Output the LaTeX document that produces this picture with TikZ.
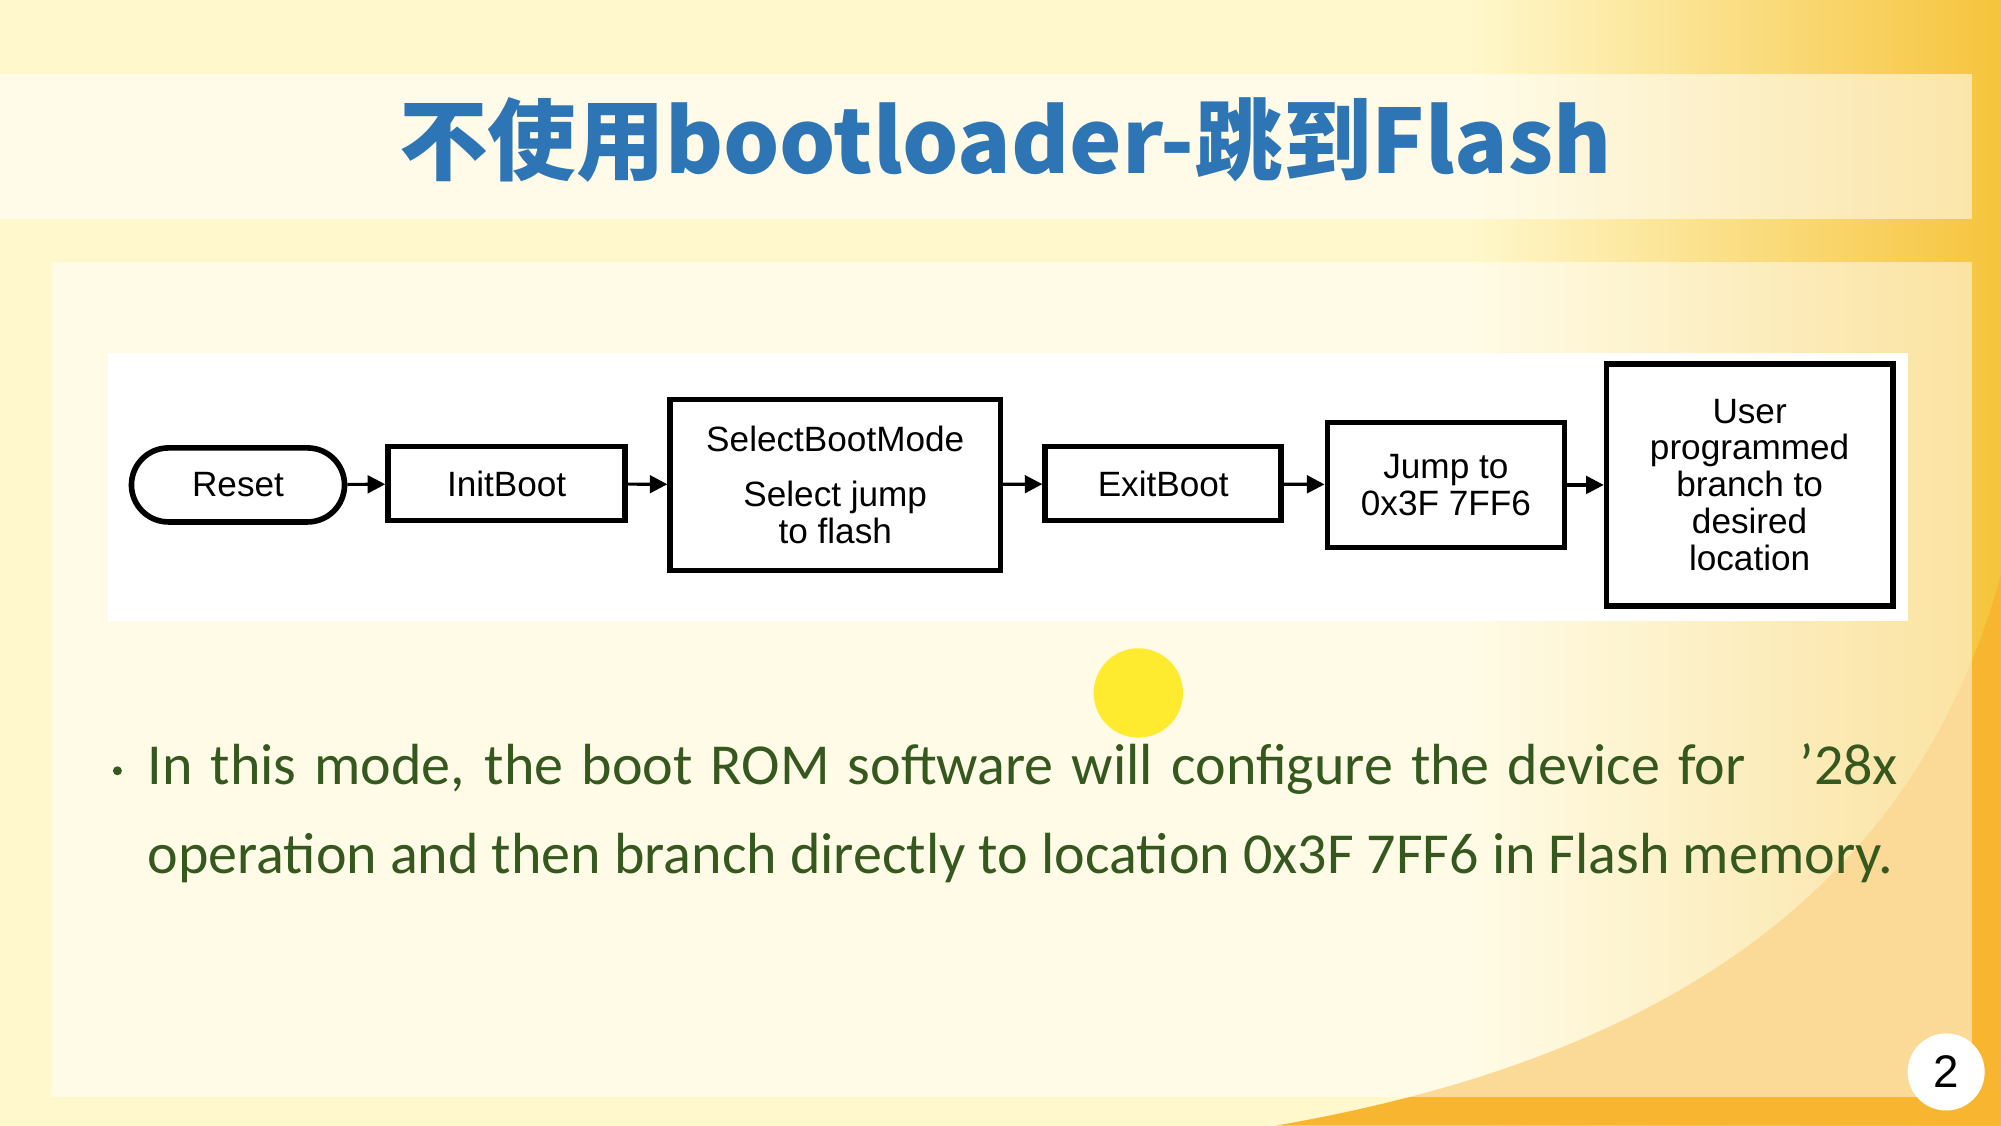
\documentclass[tikz,border=0pt]{standalone}
\usepackage{fontspec}
\setmainfont{Liberation Sans}
\newfontfamily\cjk{Noto Sans CJK SC}
\newfontfamily\body{Carlito}
\usetikzlibrary{arrows.meta}
\definecolor{bgyellow}{RGB}{255,248,205}
\definecolor{bgorange}{RGB}{246,196,60}
\definecolor{titleblue}{RGB}{46,117,182}
\definecolor{textgreen}{RGB}{52,88,30}
\tikzset{
  box/.style={draw, line width=1.6pt, align=center, inner sep=1pt,
    font=\fontsize{10}{10.5}\selectfont},
  flow/.style={-{Triangle[length=5pt,width=5pt]}, line width=0.9pt},
}
\begin{document}
\begin{tikzpicture}[x=0.01276cm,y=-0.01276cm]
        % background
        \fill[bgyellow] (0,0) rectangle (1568,882);
        \shade[left color=bgyellow, right color=bgorange] (1150,0) rectangle (1568,882);
        \fill[bgorange!80!orange] (1568,450) .. controls (1500,700) and (1300,830) .. (1000,882) -- (1568,882) -- cycle;
        \fill[white, opacity=.55] (0,58) rectangle (1545,172);
        \fill[white, opacity=.5] (40,205) rectangle (1545,860);
        % title
        \node (title) at (788,110) {\cjk\bfseries\color{titleblue}\fontsize{25.2}{29}\selectfont 不使用bootloader-跳到Flash};
        % panel
        \fill[white] (85,277) rectangle (1495,487);
        \node[box, rounded corners=0.37cm, minimum width=2.13cm, minimum height=0.74cm] (reset) at (186.5,380) {Reset};
        \node[box, minimum width=2.37cm, minimum height=0.74cm] (init) at (397,379) {InitBoot};
        \node[box, minimum width=3.30cm, minimum height=1.71cm] (select) at (654.5,380) {SelectBootMode\\[5pt]Select jump\\to flash};
        \node[box, minimum width=2.36cm, minimum height=0.74cm] (exit) at (911.5,379) {ExitBoot};
        \node[box, minimum width=2.37cm, minimum height=1.25cm] (jump) at (1133,380) {Jump to\\0x3F 7FF6};
        \node[box, minimum width=2.86cm, minimum height=2.42cm] (user) at (1371,380) {User\\programmed\\branch to\\desired\\location};
        \draw[flow] (reset) -- (init);
        \draw[flow] (init) -- (select);
        \draw[flow] (select) -- (exit);
        \draw[flow] (exit) -- (jump);
        \draw[flow] (jump) -- (user);
        % pointer
        \fill[yellow!90!orange, opacity=.8] (892,543) circle (35);
        % bullet text
        \node[anchor=north west, text width=17.5cm, align=justify, inner sep=0pt,
          font=\body\fontsize{16.5}{25.5}\selectfont, text=textgreen] (bullet) at (115,582)
          {In this mode, the boot ROM software will configure the device for \ \ ’28x\linebreak operation and then branch directly to location 0x3F 7FF6 in Flash memory.};
        \fill[textgreen] (92,604) circle (3.5);
        % page number
        \node[circle, fill=white, minimum size=0.77cm, font=\fontsize{13}{14}\selectfont] (page) at (1525,840) {2};
\end{tikzpicture}
\end{document}
